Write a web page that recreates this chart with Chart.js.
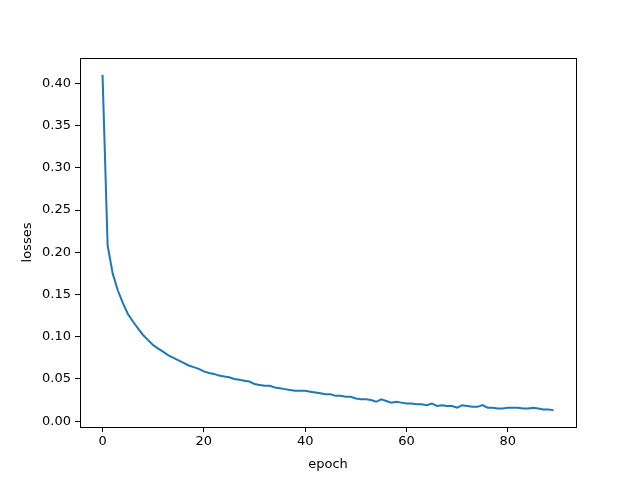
<!DOCTYPE html>
<html>
<head>
<meta charset="utf-8">
<script src="https://cdn.jsdelivr.net/npm/chart.js@4/dist/chart.umd.min.js"></script>
<style>
  html, body { margin: 0; padding: 0; background: #fff; }
  canvas { display: block; }
</style>
</head>
<body>
<canvas id="lossChart" width="640" height="480"></canvas>
<script>
// valores
const epochs = Array.from({ length: 90 }, (_, i) => i);
const losses = [
  0.410, 0.208, 0.175, 0.155, 0.140, 0.127, 0.118, 0.110, 0.102, 0.096,
  0.090, 0.086, 0.082, 0.078, 0.075, 0.072, 0.069, 0.066, 0.064, 0.062,
  0.059, 0.057, 0.056, 0.054, 0.053, 0.052, 0.050, 0.049, 0.048, 0.047,
  0.044, 0.043, 0.042, 0.042, 0.040, 0.039, 0.038, 0.037, 0.036, 0.036,
  0.036, 0.035, 0.034, 0.033, 0.032, 0.032, 0.030, 0.030, 0.029, 0.029,
  0.027, 0.026, 0.026, 0.025, 0.023, 0.026, 0.024, 0.022, 0.023, 0.022,
  0.021, 0.021, 0.020, 0.020, 0.019, 0.021, 0.018, 0.019, 0.018, 0.018,
  0.016, 0.019, 0.018, 0.017, 0.017, 0.019, 0.016, 0.016, 0.015, 0.015,
  0.016, 0.016, 0.016, 0.015, 0.015, 0.016, 0.015, 0.014, 0.014, 0.013
];
const xTicks = [0, 20, 40, 60, 80];
const yTicks = [0, 0.05, 0.10, 0.15, 0.20, 0.25, 0.30, 0.35, 0.40];

const font = { family: 'DejaVu Sans', size: 13 };

// marco completo como en matplotlib
const frame = {
  id: 'frame',
  afterDraw(chart) {
    const { ctx, chartArea: a } = chart;
    ctx.save();
    ctx.strokeStyle = '#000';
    ctx.lineWidth = 1;
    ctx.strokeRect(a.left + 0.5, a.top + 0.5, a.right - a.left, a.bottom - a.top);
    ctx.restore();
  }
};

new Chart(document.getElementById('lossChart'), {
  type: 'line',
  data: {
    datasets: [{
      data: epochs.map((e, i) => ({ x: e, y: losses[i] })),
      borderColor: '#1f77b4',
      borderWidth: 2,
      pointRadius: 0,
      tension: 0,
      fill: false
    }]
  },
  options: {
    responsive: false,
    animation: false,
    devicePixelRatio: 1,
    layout: { padding: { left: 20, right: 64, top: 58, bottom: 8 } },
    plugins: { legend: { display: false }, tooltip: { enabled: false } },
    scales: {
      x: {
        type: 'linear',
        min: -4.45,
        max: 93.45,
        afterBuildTicks: s => { s.ticks = xTicks.map(v => ({ value: v })); },
        afterFit: s => { s.height = 45; },
        ticks: { color: '#000', font, padding: 2, maxRotation: 0 },
        grid: { drawOnChartArea: false, tickLength: 5, color: '#000' },
        border: { color: '#000' },
        title: { display: true, text: 'epoch', color: '#000', font, padding: { top: 2, bottom: 0 } }
      },
      y: {
        min: -0.00685,
        max: 0.43,
        afterBuildTicks: s => { s.ticks = yTicks.map(v => ({ value: v })); },
        afterFit: s => { s.width = 60; },
        ticks: { color: '#000', font, padding: 4, callback: v => v.toFixed(2) },
        grid: { drawOnChartArea: false, tickLength: 5, color: '#000' },
        border: { color: '#000' },
        title: { display: true, text: 'losses', color: '#000', font, padding: { top: 0, bottom: 4 } }
      }
    }
  },
  plugins: [frame]
});
</script>
</body>
</html>
